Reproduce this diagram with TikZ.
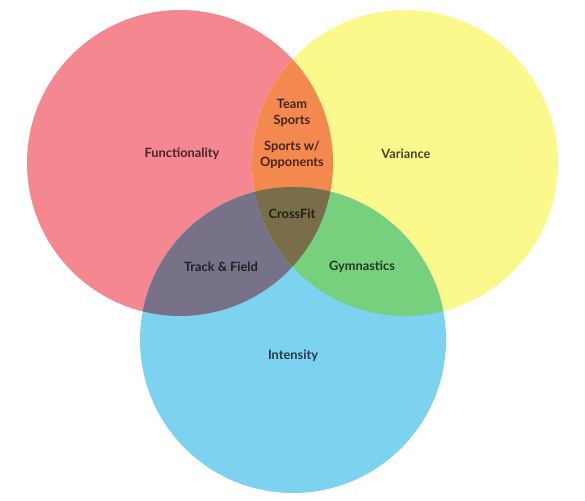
\documentclass[tikz,border=0pt]{standalone}
\usepackage{fontspec}
\setmainfont{Lato}
\usepackage{tikz}

\definecolor{funcred}{HTML}{F4878F}
\definecolor{varyellow}{HTML}{FBF98B}
\definecolor{intblue}{HTML}{7DD3EF}
\definecolor{teamorange}{HTML}{F4894F}
\definecolor{trackgrey}{HTML}{787289}
\definecolor{gymgreen}{HTML}{76D07E}
\definecolor{crossolive}{HTML}{7A6E4A}

\begin{document}
\begin{tikzpicture}
  [x=1pt,y=-1pt,
   set circle/.style={circle,minimum size=306pt,inner sep=0pt},
   set label/.style={font=\bfseries\fontsize{12.8}{16}\selectfont,text=black,text opacity=0.72,align=center}]

\useasboundingbox (0,0) rectangle (585,500);

\node[set circle,fill=funcred] (func) at (180,163) {};
\node[set circle,fill=varyellow] (var) at (405,163) {};
\node[set circle,fill=intblue] (int) at (293,340) {};

% overlaps
\begin{scope}
  \clip (func.center) circle (153pt);
  \fill[teamorange] (var.center) circle (153pt);
  \fill[trackgrey] (int.center) circle (153pt);
\end{scope}
\begin{scope}
  \clip (var.center) circle (153pt);
  \fill[gymgreen] (int.center) circle (153pt);
  \clip (func.center) circle (153pt);
  \fill[crossolive] (int.center) circle (153pt);
\end{scope}

\node[set label] (functionality) at (182,154) {Functionality};
\node[set label] (variance) at (406,154) {Variance};
\node[set label] (intensity) at (293,356) {Intensity};
\node[set label] (team) at (292,113) {Team\\Sports};
\node[set label] (opponents) at (292,155) {Sports w/\\Opponents};
\node[set label] (crossfit) at (292,214) {CrossFit};
\node[set label] (track) at (221,267) {Track \& Field};
\node[set label] (gym) at (362,267) {Gymnastics};

\end{tikzpicture}
\end{document}
